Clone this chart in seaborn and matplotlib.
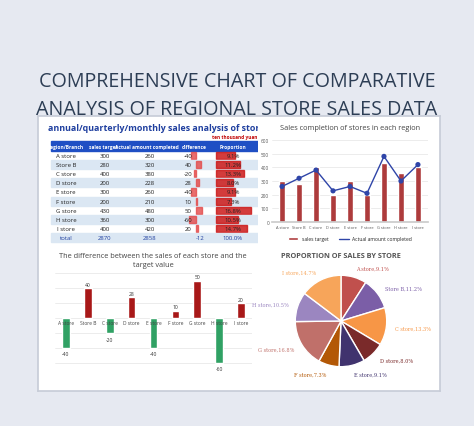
import matplotlib
matplotlib.use("Agg")
import matplotlib.pyplot as plt
import seaborn as sns
import pandas as pd
import numpy as np
from matplotlib.patches import Rectangle

stores = ["A store", "Store B", "C store", "D store", "E store", "F store", "G store", "H store", "I store"]
targets = [300, 280, 400, 200, 300, 200, 430, 360, 400]
actual = [260, 320, 380, 228, 260, 210, 480, 300, 420]
diffs = [-40, 40, -20, 28, -40, 10, 50, -60, 20]
props = [9.1, 11.2, 13.3, 8.0, 9.1, 7.3, 16.8, 10.5, 14.7]
pie_colors = ["#c0504d", "#7b5ea7", "#f79646", "#7a2a2a", "#40336e", "#b35806", "#c0706a", "#9b86c0", "#f7a55a"]

sns.set_theme(style="white")
plt.rcParams['font.family'] = ['Open Sans', 'DejaVu Sans']
W, H = 474, 427
fig = plt.figure(figsize=(W/100, H/100), dpi=100)
fig.patch.set_facecolor("#e6e9f1")

def ax_px(x0, y0, x1, y1):
    return fig.add_axes([x0/W, 1-y1/H, (x1-x0)/W, (y1-y0)/H])

fig.text(0.5, 1-82/H, "COMPREHENSIVE CHART OF COMPARATIVE", ha="center", va="center", fontsize=14.2, color="#2d3e55")
fig.text(0.5, 1-110/H, "ANALYSIS OF REGIONAL STORE SALES DATA", ha="center", va="center", fontsize=14.2, color="#2d3e55")

bg = ax_px(38, 117, 440, 392)
bg.set_facecolor("white"); bg.set_xticks([]); bg.set_yticks([])
for s in bg.spines.values(): s.set_color("#c8cdd8")

# ---- table ----
ta = ax_px(48, 120, 258, 248)
ta.set_xlim(48, 258); ta.set_ylim(248, 120); ta.axis("off")
ta.text(48, 128, "annual/quarterly/monthly sales analysis of stores i", fontsize=6.4, fontweight="bold", color="#1f3f9f", va="center", clip_on=True)
ta.text(257, 137, "ten thousand yuan", fontsize=3.4, color="#c00000", ha="right", va="center", fontweight="bold")
ta.add_patch(Rectangle((51, 142), 207, 10, color="#1f4fc4"))
hdr = [("Region/Branch", 66), ("sales target", 103), ("Actual amount completed", 147), ("difference", 194), ("Proportion", 233)]
for t, x in hdr:
    ta.text(x, 147, t, fontsize=3.5, color="white", fontweight="bold", ha="center", va="center")
rh = 9.1
for i, s in enumerate(stores):
    y0 = 152 + i*rh
    if i % 2 == 1:
        ta.add_patch(Rectangle((51, y0), 207, rh, color="#dbe7f3"))
    yc = y0 + rh/2
    ta.text(66, yc, s, fontsize=4.3, ha="center", va="center", color="#222")
    ta.text(105, yc, str(targets[i]), fontsize=4.3, ha="center", va="center", color="#222")
    ta.text(150, yc, str(actual[i]), fontsize=4.3, ha="center", va="center", color="#222")
    ta.add_patch(Rectangle((196, y0+1), diffs[i]*0.12, rh-2, color="#e34a4a", alpha=0.8))
    ta.text(188, yc, str(diffs[i]), fontsize=4.3, ha="center", va="center", color="#222")
    ta.add_patch(Rectangle((216, y0+1), props[i]*2.1, rh-2, color="#cc1a1a", alpha=0.85))
    ta.text(233, yc, f"{props[i]:.1f}%", fontsize=4.3, ha="center", va="center", color="#222")
yt = 152 + 9*rh
ta.add_patch(Rectangle((51, yt), 207, rh, color="#dbe7f3"))
for t, x in [("total", 66), (str(sum(targets)), 105), (str(sum(actual)), 150), (str(sum(diffs)), 200), ("100.0%", 233)]:
    ta.text(x, yt+rh/2, t, fontsize=4.3, ha="center", va="center", color="#1f3f9f")

# ---- line + bar chart ----
la = ax_px(272, 141, 428, 223)
df = pd.DataFrame({"store": stores, "target": targets, "actual": actual})
sns.barplot(data=df, x="store", y="target", color="#c0282a", width=0.35, ax=la, label="sales target")
la.plot(range(9), actual, color="#2f45a8", lw=1, label="Actual amount completed")
sns.scatterplot(data=df, x="store", y="actual", color="#2f45a8", s=14, ax=la, zorder=5, edgecolor="none")
la.set_ylim(0, 600); la.set_yticks(range(0, 601, 100))
la.grid(axis="y", color="#e4e4e4", lw=0.5)
la.set_xlabel(""); la.set_ylabel("")
la.tick_params(axis="x", labelsize=2.9, colors="#555", length=0, pad=2)
la.tick_params(axis="y", labelsize=3.4, colors="#555", length=0, pad=2)
for s in la.spines.values(): s.set_visible(False)
la.spines["bottom"].set_visible(True); la.spines["bottom"].set_color("#ccc")
la.set_title("Sales completion of stores in each region", fontsize=5.3, color="#444", pad=8)
h, l = la.get_legend_handles_labels()
order = [l.index("sales target"), l.index("Actual amount completed")]
la.legend([h[k] for k in order], [l[k] for k in order], loc="upper center", bbox_to_anchor=(0.5, -0.12), ncol=2, fontsize=3.6, frameon=False)

# ---- difference chart ----
da = ax_px(55, 274, 252, 379)
cols = ["#1db462" if d < 0 else "#c00000" for d in diffs]
sns.barplot(x=stores, y=diffs, hue=stores, palette=cols, legend=False, width=0.35, ax=da)
da.set_ylim(-80, 60); da.set_yticks(range(-80, 61, 20)); da.set_yticklabels([])
da.grid(axis="y", color="#e4e4e4", lw=0.5)
da.tick_params(length=0)
da.set_xticks([])
for s in da.spines.values(): s.set_visible(False)
for i, (s, d) in enumerate(zip(stores, diffs)):
    da.text(i, 0 - 5.5, s, fontsize=3.5, ha="center", va="center", color="#444")
    da.text(i, d + (5 if d > 0 else -8), str(d), fontsize=3.6, ha="center", va="center", color="#333")
fig.text(153/W, 1-261/H, "The difference between the sales of each store and the\ntarget value", ha="center", va="center", fontsize=5.3, color="#444", linespacing=1.5)

# ---- pie ----
pa = ax_px(293, 274, 389, 370)
labels = [f"{s},{p:.1f}%" for s, p in zip(stores, props)]
wedges, texts = pa.pie(props, colors=pie_colors, startangle=90, counterclock=False, labels=labels, radius=1.0,
                       labeldistance=1.2, textprops=dict(fontsize=3.6, family="DejaVu Serif"))
for t, c in zip(texts, pie_colors):
    t.set_color(c)
pa.set_xlim(-1.05, 1.05); pa.set_ylim(-1.05, 1.05)
pa.set_aspect("equal")
fig.text(341/W, 1-256/H, "PROPORTION OF SALES BY STORE", ha="center", va="center", fontsize=5.3, fontweight="bold", color="#555")

fig.savefig("out.png", dpi=100, facecolor=fig.get_facecolor())
